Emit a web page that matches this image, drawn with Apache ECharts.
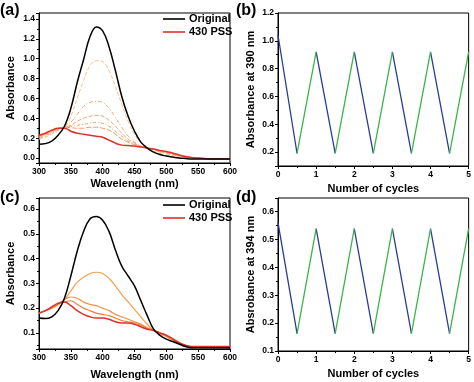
<!DOCTYPE html>
<html><head><meta charset="utf-8">
<script src="https://cdn.jsdelivr.net/npm/echarts@6/dist/echarts.min.js"></script>
<style>html,body{margin:0;padding:0;background:#fff}#c{width:474px;height:382px}</style>
</head><body><div id="c"></div>
<script>
// Wavelength grid (nm)
const wl = [300,310,320,330,340,350,360,370,380,390,400,410,420,430,440,450,460,470,480,490,500,510,520,530,540,550,560,570,580,590,600];
// Panel (a) spectra
const aOriginal = [0.14,0.145,0.17,0.23,0.32,0.50,0.76,0.99,1.22,1.32,1.28,1.12,0.88,0.62,0.42,0.27,0.16,0.10,0.06,0.035,0.02,0.01,0.0,-0.005,-0.01,-0.01,-0.01,-0.01,-0.01,-0.01,-0.01];
const aMid1 = [0.19,0.21,0.24,0.28,0.31,0.42,0.60,0.78,0.93,0.98,0.97,0.88,0.72,0.54,0.37,0.24,0.15,0.10,0.07,0.045,0.03,0.02,0.01,0.005,0.0,-0.003,-0.005,-0.008,-0.01,-0.01,-0.01];
const aMid2 = [0.20,0.22,0.25,0.28,0.31,0.36,0.44,0.52,0.56,0.57,0.56,0.50,0.41,0.31,0.22,0.16,0.12,0.10,0.08,0.06,0.045,0.03,0.02,0.01,0.005,0.0,-0.005,-0.008,-0.01,-0.01,-0.01];
const aMid3 = [0.21,0.23,0.26,0.29,0.31,0.33,0.37,0.40,0.42,0.43,0.42,0.38,0.32,0.25,0.19,0.15,0.12,0.10,0.085,0.065,0.05,0.035,0.022,0.012,0.005,0.0,-0.005,-0.008,-0.01,-0.01,-0.01];
const aMid4 = [0.22,0.24,0.27,0.29,0.31,0.32,0.33,0.34,0.35,0.36,0.35,0.32,0.27,0.22,0.17,0.14,0.12,0.10,0.087,0.07,0.055,0.04,0.025,0.013,0.005,0.0,-0.005,-0.008,-0.01,-0.01,-0.01];
const aMid5 = [0.22,0.24,0.27,0.30,0.31,0.305,0.30,0.30,0.31,0.31,0.30,0.28,0.24,0.19,0.16,0.13,0.115,0.10,0.088,0.072,0.058,0.042,0.027,0.014,0.005,0.0,-0.005,-0.008,-0.01,-0.01,-0.01];
const aPSS = [0.23,0.25,0.28,0.30,0.30,0.27,0.25,0.24,0.23,0.22,0.21,0.18,0.15,0.13,0.125,0.12,0.11,0.10,0.09,0.075,0.065,0.05,0.03,0.015,0.005,0.0,-0.005,-0.01,-0.01,-0.01,-0.01];
// Panel (c) spectra
const cOriginal = [0.16,0.158,0.165,0.19,0.24,0.33,0.43,0.51,0.56,0.57,0.555,0.51,0.435,0.37,0.33,0.29,0.23,0.17,0.115,0.09,0.075,0.065,0.055,0.045,0.04,0.04,0.04,0.04,0.04,0.04,0.04];
const cMid1 = [0.18,0.19,0.20,0.215,0.235,0.27,0.305,0.325,0.34,0.345,0.34,0.32,0.29,0.255,0.225,0.195,0.165,0.135,0.11,0.095,0.085,0.07,0.055,0.045,0.042,0.04,0.04,0.042,0.042,0.042,0.042];
const cMid2 = [0.18,0.19,0.20,0.215,0.235,0.245,0.24,0.225,0.215,0.21,0.20,0.19,0.175,0.165,0.155,0.145,0.135,0.12,0.11,0.10,0.09,0.075,0.06,0.048,0.043,0.042,0.042,0.043,0.043,0.043,0.043];
const cMid3 = [0.18,0.19,0.20,0.215,0.225,0.23,0.215,0.20,0.19,0.18,0.175,0.17,0.16,0.15,0.145,0.14,0.13,0.12,0.11,0.10,0.09,0.077,0.062,0.05,0.044,0.043,0.043,0.044,0.044,0.044,0.044];
const cPSS = [0.18,0.19,0.205,0.22,0.225,0.21,0.19,0.175,0.165,0.16,0.16,0.155,0.145,0.14,0.14,0.135,0.125,0.115,0.11,0.10,0.09,0.075,0.06,0.05,0.045,0.045,0.045,0.045,0.045,0.045,0.045];
// Cycling data (b) and (d)
const cycX = [0,0.5,1,1.5,2,2.5,3,3.5,4,4.5,5];
const bAbs = [1.04,0.19,0.92,0.19,0.92,0.19,0.92,0.19,0.92,0.19,0.92];
const dAbs = [0.56,0.162,0.538,0.162,0.538,0.162,0.538,0.162,0.538,0.162,0.538];
const legendNames = ['Original','430 PSS'];

const FONT = 'Liberation Sans, Arial, sans-serif';
const pair = ys => wl.map((x,i)=>[x, ys[i]]);
function segs(ys, down){
  const out=[];
  for(let i=0;i<cycX.length-1;i++){
    const isDown = ys[i+1] < ys[i];
    if(isDown===down){ if(out.length) out.push('-'); out.push([cycX[i],ys[i]],[cycX[i+1],ys[i+1]]); }
  }
  return out;
}
const lbl = {color:'#000',fontFamily:FONT,fontWeight:'bold',fontSize:8.5,margin:4};
const yfmt = v => (Math.abs(v*10-Math.round(v*10))<1e-6) ? v.toFixed(1) : '';
function yAx(gi,min,max,name,opts){
  return Object.assign({type:'value',gridIndex:gi,min,max,name,nameLocation:'middle',nameGap:24,
    nameTextStyle:{color:'#000',fontFamily:FONT,fontWeight:'bold',fontSize:11},
    axisLine:{show:true,lineStyle:{color:'#000',width:1}},
    axisTick:{show:true,inside:false,length:3,lineStyle:{color:'#000'}},
    minorTick:{show:true,splitNumber:2,length:2,lineStyle:{color:'#000'}},
    splitLine:{show:false},axisLabel:Object.assign({},lbl,{formatter:yfmt,showMinLabel:false,showMaxLabel:false})},opts||{});
}
function xAx(gi,min,max,interval,name,gap){
  return {type:'value',gridIndex:gi,min,max,interval,name,nameLocation:'middle',nameGap:gap,
    nameTextStyle:{color:'#000',fontFamily:FONT,fontWeight:'bold',fontSize:11},
    axisLine:{show:true,onZero:false,lineStyle:{color:'#000',width:1}},
    axisTick:{show:true,length:3,lineStyle:{color:'#000'}},
    minorTick:{show:true,splitNumber:2,length:2,lineStyle:{color:'#000'}},
    splitLine:{show:false},axisLabel:Object.assign({},lbl)};
}
function spec(name,gi,ys,color,type,width){
  return {name,type:'line',xAxisIndex:gi,yAxisIndex:gi,data:pair(ys),smooth:0.4,symbol:'none',
    lineStyle:{color,width:width||1,type:type||'solid'},itemStyle:{color},z:name==='Original'?3:2};
}
function cyc(gi,ys,down){
  return {type:'line',xAxisIndex:gi,yAxisIndex:gi,data:segs(ys,down),symbol:'none',connectNulls:false,
    lineStyle:{color:down?'#2a3d96':'#3cb54a',width:1.3}};
}
const gridBase = {show:true,borderColor:'#000',borderWidth:1,backgroundColor:'transparent'};
function legendGraphics(y0){
  const cols=['#000','#e0302a'];
  const out=[];
  legendNames.forEach((n,i)=>{
    const y=y0+i*13;
    out.push({type:'line',shape:{x1:163,y1:y,x2:185,y2:y},style:{stroke:cols[i],lineWidth:1.6}});
    out.push({type:'text',left:189,top:y-6,style:{text:n,font:'bold 11px '+FONT,fill:'#000'}});
  });
  return out;
}

const chart = echarts.init(document.getElementById('c'),null,{renderer:'canvas'});
chart.setOption({
  animation:false,
  grid:[
    Object.assign({left:39,top:13,width:191,height:150},gridBase),
    Object.assign({left:278,top:13,width:191,height:153},gridBase),
    Object.assign({left:39,top:198,width:191,height:151},gridBase),
    Object.assign({left:278,top:198,width:191,height:153},gridBase)
  ],
  xAxis:[
    xAx(0,300,600,50,'Wavelength (nm)',15),
    xAx(1,0,5,1,'Number of cycles',17),
    xAx(2,300,600,50,'Wavelength (nm)',20),
    xAx(3,0,5,1,'Number of cycles',17)
  ],
  yAxis:[
    yAx(0,-0.05,1.46,'Absorbance',{splitNumber:7,nameGap:23}),
    yAx(1,0.1,1.2,'Absorbance at 390 nm',{splitNumber:5,nameGap:22,axisLabel:Object.assign({},lbl,{formatter:yfmt,showMinLabel:false,showMaxLabel:true})}),
    yAx(2,0.035,0.645,'Absorbance',{splitNumber:6,nameGap:23}),
    yAx(3,0.1,0.648,'Absrobance at 394 nm',{splitNumber:5,nameGap:22,axisLabel:Object.assign({},lbl,{formatter:yfmt,showMinLabel:true,showMaxLabel:false})})
  ],
  graphic:[
    {type:'text',left:0,top:3,style:{text:'(a)',font:'bold 16px '+FONT,fill:'#000'}},
    {type:'text',left:236,top:3,style:{text:'(b)',font:'bold 16px '+FONT,fill:'#000'}},
    {type:'text',left:0,top:190,style:{text:'(c)',font:'bold 16px '+FONT,fill:'#000'}},
    {type:'text',left:236,top:190,style:{text:'(d)',font:'bold 16px '+FONT,fill:'#000'}}
  ].concat(legendGraphics(19), legendGraphics(205)),
  series:[
    spec('a1',0,aMid1,'#f8c08a','dashed',1),
    spec('a2',0,aMid2,'#eeaa70',[4,2,1,2],1),
    spec('a3',0,aMid3,'#eea268',[4,2],1),
    spec('a4',0,aMid4,'#f0a060',[3,2,1,2],1),
    spec('a5',0,aMid5,'#f29858',[5,2],1),
    spec('430 PSS',0,aPSS,'#e0302a','solid',1.5),
    spec('Original',0,aOriginal,'#000000','solid',1.5),
    spec('c1',2,cMid1,'#f5a050','solid',1.2),
    spec('c2',2,cMid2,'#f39048','solid',1.2),
    spec('c3',2,cMid3,'#f08040','solid',1.2),
    spec('430 PSS',2,cPSS,'#e0302a','solid',1.5),
    spec('Original',2,cOriginal,'#000000','solid',1.5),
    cyc(1,bAbs,true),cyc(1,bAbs,false),
    cyc(3,dAbs,true),cyc(3,dAbs,false)
  ]
});
</script></body></html>
